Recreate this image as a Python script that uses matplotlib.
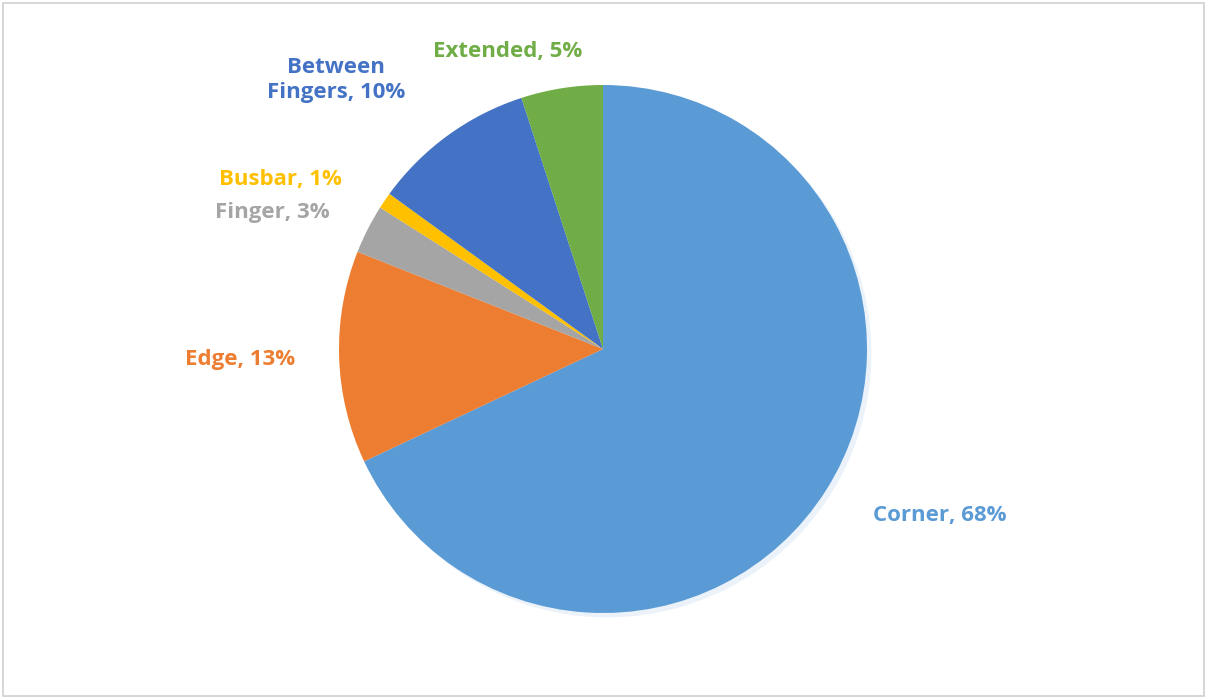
import matplotlib
matplotlib.use("Agg")
import matplotlib.pyplot as plt
from matplotlib.patches import Rectangle

categories = ["Corner", "Edge", "Finger", "Busbar", "Between\nFingers", "Extended"]
values = [68, 13, 3, 1, 10, 5]
colors = ["#5B9BD5", "#ED7D31", "#A5A5A5", "#FFC000", "#4472C4", "#70AD47"]

W, H = 1207, 699
fig = plt.figure(figsize=(W/100, H/100), dpi=100)
fig.patches.append(Rectangle((3/W, 3/H), 1-6/W, 1-6/H, transform=fig.transFigure,
                             fill=False, edgecolor="#D0D0D0", linewidth=1.2))
cx, cy, r = 603, 349, 264
ax = fig.add_axes([(cx-r)/W, (H-cy-r)/H, 2*r/W, 2*r/H])
ax.pie(values, colors=colors, startangle=90, counterclock=False, radius=1,
       wedgeprops=dict(linewidth=0), shadow=dict(shade=0.0, alpha=0.12, ox=0.012, oy=-0.012))
ax.set_xlim(-1, 1); ax.set_ylim(-1, 1); ax.set_aspect("equal"); ax.axis("off")

labels = [
    (f"{categories[0]}, {values[0]}%", 940, 516, "center"),
    (f"{categories[1]}, {values[1]}%", 240, 360, "center"),
    (f"{categories[2]}, {values[2]}%", 272, 213, "center"),
    (f"{categories[3]}, {values[3]}%", 280, 179, "center"),
    (f"{categories[4]}, {values[4]}%", 336, 80, "center"),
    (f"{categories[5]}, {values[5]}%", 508, 52, "center"),
]
for (txt, x, y, ha), c in zip(labels, colors):
    fig.text(x/W, 1-y/H, txt, color=c, ha=ha, va="center", fontsize=16,
             fontweight="bold", family="Open Sans", linespacing=1.25)
fig.savefig("out.png", dpi=100)
